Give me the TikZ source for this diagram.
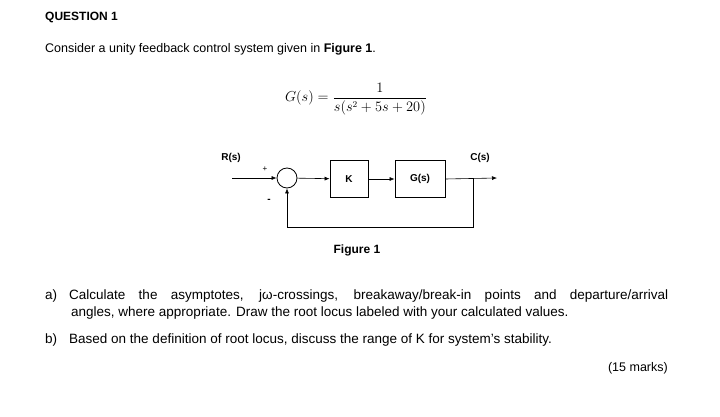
\documentclass[tikz,border=0pt]{standalone}
\usepackage{amsmath}
\usepackage{fontspec}
\setmainfont{Liberation Sans}
\usetikzlibrary{arrows.meta}
\begin{document}
\begin{tikzpicture}[x=1pt,y=-1pt,
  txt/.style={anchor=west,inner sep=0pt,font=\fontsize{13.5}{16}\selectfont},
  blk/.style={draw,line width=0.8pt,minimum width=38pt,minimum height=37pt,font=\fontsize{10}{12}\selectfont\bfseries},
  sig/.style={line width=0.6pt,-{Latex[length=5pt,width=4pt]}},
  lbl/.style={inner sep=0pt,font=\fontsize{10}{12}\selectfont\bfseries}]
\path[use as bounding box] (0,0) rectangle (720,417);
\node[txt,font=\fontsize{12}{14}\selectfont\bfseries] (q) at (45,17) {QUESTION 1};
\node[txt,font=\fontsize{12.5}{15}\selectfont] (c) at (45,49) {Consider a unity feedback control system given in \textbf{Figure 1}.};
\node[inner sep=0pt] (eq) at (356,99) {\fontsize{13.5}{16}\selectfont$G(s)=\dfrac{1}{s(s^2+5s+20)}$};
\coordinate (in) at (232,178);
\node[draw,circle,line width=0.8pt,minimum size=20pt,inner sep=0pt] (sum) at (287,178) {};
\node[blk] (k) at (349,179) {K};
\node[blk,minimum width=50pt] (g) at (420,179) {G(s)};
\coordinate (br) at (473,178);
\coordinate (out) at (497,178);
\coordinate (fb) at (473,227);
\draw[sig] (in) -- (sum);
\draw[sig] (sum) -- (k);
\draw[sig] (k) -- (g);
\draw[sig] (g.east) -- (out);
\draw[sig] (br) -- (fb) -| (sum.south);
\node[lbl] (r) at (231,158) {R(s)};
\node[lbl] (cs) at (480,158) {C(s)};
\node[lbl,font=\fontsize{8}{9}\selectfont] (p) at (265,169) {+};
\node[lbl] (m) at (269,201) {-};
\node[lbl,font=\fontsize{12}{14}\selectfont\bfseries] (f) at (357,250) {Figure 1};
\node[txt] (a1) at (45,296) {\hbox to 623pt{a)\hspace{12pt}Calculate the asymptotes, jω-crossings, breakaway/break-in points and departure/arrival}};
\node[txt] (a2) at (71,313) {angles, where appropriate. Draw the root locus labeled with your calculated values.};
\node[txt] (b) at (45,340) {b)\hspace{12pt}Based on the definition of root locus, discuss the range of K for system's stability.};
\node[txt,font=\fontsize{12.5}{15}\selectfont,anchor=east] (mk) at (668,368) {(15 marks)};
\end{tikzpicture}
\end{document}
